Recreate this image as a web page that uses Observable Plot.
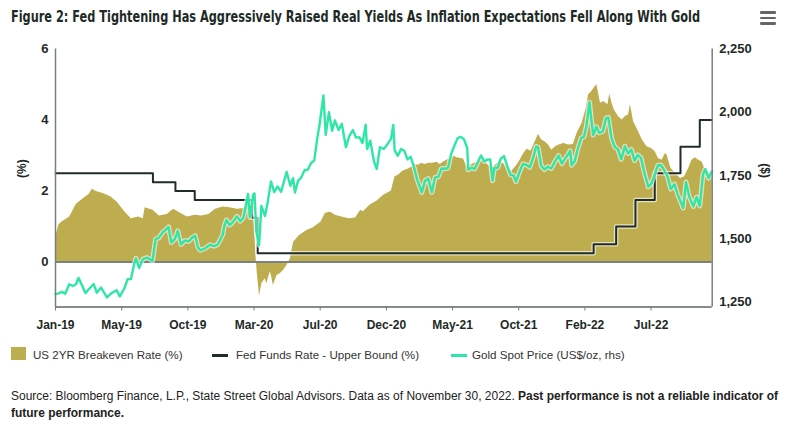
<!DOCTYPE html>
<html><head><meta charset="utf-8">
<script src="https://cdn.jsdelivr.net/npm/d3@7"></script>
<script src="https://cdn.jsdelivr.net/npm/@observablehq/plot@0.6"></script>
<style>
html,body{margin:0;padding:0;background:#fff;}
body{width:792px;height:437px;position:relative;overflow:hidden;font-family:"Liberation Sans",Arial,sans-serif;color:#1e2a26;}
#title{position:absolute;left:11px;top:7px;font-family:"DejaVu Sans Condensed","Liberation Sans",sans-serif;font-stretch:condensed;font-weight:bold;font-size:15px;line-height:20px;white-space:nowrap;color:#1e2a26;transform-origin:0 0;}
#menu{position:absolute;left:760px;top:11px;width:16px;}
#menu div{height:2.6px;background:#666;border-radius:1.3px;margin-bottom:3px;}
#chart{position:absolute;left:0;top:0;}
.leg{position:absolute;top:346px;font-size:11.6px;line-height:18px;color:#333;white-space:nowrap;}
.cap{position:absolute;left:11px;font-size:12px;line-height:17px;color:#222;white-space:nowrap;transform-origin:0 0;}
</style>
</head><body>
<div id="title">Figure 2: Fed Tightening Has Aggressively Raised Real Yields As Inflation Expectations Fell Along With Gold</div>
<div id="menu"><div></div><div></div><div></div></div>
<div id="chart"></div>
<div id="legend"></div>
<div class="cap" id="cap1" style="top:388px">Source: Bloomberg Finance, L.P., State Street Global Advisors. Data as of November 30, 2022. <b>Past performance is not a reliable indicator of</b></div>
<div class="cap" id="cap2" style="top:405px"><b>future performance.</b></div>
<script>
// ---- Data ----
const breakevenDates = ["2019-01-01","2019-01-08","2019-01-15","2019-02-01","2019-02-15","2019-03-01","2019-03-15","2019-03-22","2019-04-01","2019-04-15","2019-05-01","2019-05-15","2019-06-01","2019-06-15","2019-07-01","2019-07-11","2019-07-15","2019-08-01","2019-08-15","2019-09-01","2019-09-15","2019-10-01","2019-10-15","2019-11-01","2019-11-15","2019-12-01","2019-12-15",
"2020-01-01","2020-01-15","2020-02-01","2020-02-15","2020-02-23","2020-03-01","2020-03-05","2020-03-09","2020-03-12","2020-03-15","2020-03-20","2020-03-25","2020-04-01","2020-04-05","2020-04-12","2020-04-15","2020-04-19","2020-04-27","2020-05-04","2020-05-11","2020-05-19","2020-05-26","2020-06-02","2020-06-15","2020-07-01","2020-07-15","2020-08-01","2020-08-10","2020-08-21","2020-09-01","2020-09-15","2020-10-01","2020-10-15","2020-10-26","2020-11-01","2020-11-15","2020-12-01","2020-12-15",
"2021-01-01","2021-01-04","2021-01-09","2021-01-17","2021-01-24","2021-02-01","2021-02-07","2021-02-15","2021-02-22","2021-03-01","2021-03-08","2021-03-15","2021-03-23","2021-04-01","2021-04-10","2021-04-17","2021-04-25","2021-05-01","2021-05-10","2021-05-17","2021-05-24","2021-06-01","2021-06-07","2021-06-14","2021-06-22","2021-07-01","2021-07-10","2021-07-17","2021-07-24","2021-08-01","2021-08-08","2021-08-15","2021-08-22","2021-09-01","2021-09-09","2021-09-20","2021-10-01","2021-10-08","2021-10-16","2021-10-23","2021-11-01","2021-11-10","2021-11-17","2021-11-24","2021-12-01","2021-12-09","2021-12-16","2021-12-24",
"2022-01-01","2022-01-11","2022-01-22","2022-02-01","2022-02-09","2022-02-20","2022-03-01","2022-03-06","2022-03-13","2022-03-18","2022-03-24","2022-04-01","2022-04-08","2022-04-17","2022-04-21","2022-04-26","2022-05-01","2022-05-10","2022-05-18","2022-05-25","2022-06-01","2022-06-05","2022-06-12","2022-06-21","2022-07-01","2022-07-11","2022-07-21","2022-07-29","2022-08-05","2022-08-13","2022-08-20","2022-08-24","2022-09-01","2022-09-11","2022-09-22","2022-10-01","2022-10-10","2022-10-17","2022-10-24","2022-11-01","2022-11-08","2022-11-15","2022-11-22","2022-11-30"];
const breakevenValues = [0.68,1.04,1.13,1.27,1.62,1.77,1.90,2.05,1.98,1.93,1.84,1.69,1.41,1.22,1.27,1.22,1.53,1.46,1.30,1.34,1.49,1.37,1.27,1.32,1.30,1.34,1.49,
1.55,1.53,1.49,1.51,1.70,1.75,1.60,1.00,0.20,-0.30,-0.96,-0.61,-0.47,-0.61,-0.28,-0.38,-0.66,-0.38,-0.33,-0.24,-0.09,0.09,0.56,0.75,0.89,0.97,1.13,1.37,1.41,1.32,1.27,1.22,1.24,1.46,1.42,1.60,1.72,1.88,
2.00,2.17,2.40,2.45,2.54,2.59,2.62,2.68,2.75,2.73,2.78,2.75,2.78,2.78,2.81,2.75,2.82,2.87,2.92,2.98,2.94,2.92,2.90,2.68,2.73,2.78,2.82,2.87,2.81,2.71,2.64,2.73,2.81,2.78,2.66,2.56,2.73,2.87,3.06,3.18,3.13,3.39,3.60,3.44,3.39,3.30,3.15,3.25,
3.30,3.34,3.30,3.31,3.63,3.91,4.33,4.71,4.80,4.90,4.99,4.47,4.52,4.43,4.73,4.47,4.28,4.10,4.00,4.10,4.14,4.44,3.95,3.72,3.44,3.25,3.20,3.11,2.92,2.87,3.06,3.01,2.64,2.50,2.35,2.40,2.64,2.87,2.94,2.87,2.82,2.59,2.50,2.55];

const fedDates = ["2019-01-01","2019-08-01","2019-09-19","2019-10-31","2020-03-04","2020-03-16","2022-03-17","2022-05-05","2022-06-16","2022-07-28","2022-09-22","2022-11-03","2022-11-30"];
const fedValues = [2.50,2.25,2.00,1.75,1.25,0.25,0.50,1.00,1.75,2.50,3.25,4.00,4.00];

const goldDates = ["2019-01-01","2019-01-08","2019-01-15","2019-01-22","2019-01-31","2019-02-08","2019-02-15","2019-02-20","2019-02-28","2019-03-07","2019-03-15","2019-03-25","2019-04-01","2019-04-10","2019-04-23","2019-05-01","2019-05-14","2019-05-21","2019-05-31","2019-06-07","2019-06-14","2019-06-21","2019-06-25","2019-07-02","2019-07-10","2019-07-19","2019-07-31","2019-08-07","2019-08-13","2019-08-23","2019-09-04","2019-09-10","2019-09-18","2019-09-24","2019-10-01","2019-10-10","2019-10-18","2019-10-25","2019-11-01","2019-11-07","2019-11-12","2019-11-22","2019-12-03","2019-12-12","2019-12-20","2019-12-31",
"2020-01-03","2020-01-08","2020-01-15","2020-01-24","2020-01-31","2020-02-07","2020-02-14","2020-02-24","2020-02-28","2020-03-06","2020-03-09","2020-03-13","2020-03-19","2020-03-24","2020-04-01","2020-04-07","2020-04-14","2020-04-21","2020-04-28","2020-05-06","2020-05-18","2020-05-26","2020-06-01","2020-06-05","2020-06-12","2020-06-19","2020-06-26","2020-07-03","2020-07-10","2020-07-17","2020-07-24","2020-07-28","2020-08-06","2020-08-11","2020-08-18","2020-08-25","2020-08-31","2020-09-08","2020-09-15","2020-09-24","2020-10-01","2020-10-09","2020-10-16","2020-10-23","2020-10-30","2020-11-06","2020-11-09","2020-11-16","2020-11-24","2020-11-30","2020-12-07","2020-12-15","2020-12-22","2020-12-31",
"2021-01-05","2021-01-08","2021-01-15","2021-01-22","2021-01-29","2021-02-05","2021-02-12","2021-02-19","2021-02-26","2021-03-05","2021-03-08","2021-03-15","2021-03-22","2021-03-30","2021-04-06","2021-04-13","2021-04-20","2021-04-27","2021-05-04","2021-05-11","2021-05-18","2021-05-25","2021-06-01","2021-06-08","2021-06-15","2021-06-17","2021-06-25","2021-07-01","2021-07-08","2021-07-15","2021-07-22","2021-07-30","2021-08-04","2021-08-09","2021-08-13","2021-08-20","2021-08-27","2021-09-03","2021-09-10","2021-09-17","2021-09-24","2021-09-29","2021-10-06","2021-10-14","2021-10-22","2021-10-29","2021-11-05","2021-11-12","2021-11-16","2021-11-23","2021-11-30","2021-12-07","2021-12-15","2021-12-22","2021-12-31",
"2022-01-07","2022-01-14","2022-01-21","2022-01-25","2022-01-28","2022-02-04","2022-02-11","2022-02-18","2022-02-24","2022-03-01","2022-03-08","2022-03-11","2022-03-16","2022-03-23","2022-03-29","2022-04-06","2022-04-13","2022-04-18","2022-04-25","2022-05-02","2022-05-09","2022-05-16","2022-05-24","2022-05-31","2022-06-07","2022-06-14","2022-06-21","2022-06-28","2022-07-05","2022-07-14","2022-07-21","2022-07-28","2022-08-04","2022-08-10","2022-08-16","2022-08-24","2022-09-01","2022-09-09","2022-09-16","2022-09-28","2022-10-04","2022-10-11","2022-10-20","2022-10-27","2022-11-03","2022-11-10","2022-11-15","2022-11-22","2022-11-30"];
const goldValues = [1282,1285,1291,1283,1321,1314,1322,1346,1316,1286,1302,1322,1287,1308,1269,1283,1297,1273,1305,1341,1341,1399,1423,1385,1420,1426,1413,1500,1503,1527,1547,1486,1500,1532,1478,1494,1490,1505,1512,1467,1455,1462,1477,1471,1478,1517,
1549,1575,1554,1571,1589,1570,1584,1677,1585,1674,1680,1530,1475,1630,1590,1648,1727,1685,1707,1686,1765,1710,1740,1683,1730,1743,1771,1773,1799,1810,1902,1944,2067,1911,2000,1927,1968,1930,1955,1862,1905,1930,1900,1902,1879,1951,1855,1888,1806,1776,1862,1855,1870,1895,
1950,1850,1828,1855,1848,1814,1824,1784,1734,1700,1683,1730,1738,1684,1743,1745,1778,1777,1780,1836,1868,1898,1903,1893,1858,1773,1781,1776,1803,1829,1806,1814,1813,1730,1780,1781,1817,1827,1787,1754,1750,1726,1761,1796,1792,1783,1818,1865,1862,1788,1774,1785,1778,1803,1829,
1797,1818,1835,1848,1791,1808,1859,1898,1904,1943,2040,1988,1910,1943,1919,1925,1977,1980,1897,1863,1854,1814,1866,1837,1853,1809,1832,1820,1764,1706,1719,1756,1791,1792,1776,1750,1697,1716,1675,1622,1725,1667,1628,1665,1630,1755,1776,1740,1768];

const xTickDates = ["2019-01-01","2019-05-25","2019-10-16","2020-03-08","2020-07-30","2020-12-21","2021-05-14","2021-10-05","2022-02-26","2022-07-20"];
const leftTicks = [0, 2, 4, 6];
const rightTicks = [1250, 1500, 1750, 2000, 2250];
const xDomain = ["2019-01-01", "2022-11-30"];
const leftDomain = [-1.265, 6];
const rightDomain = [1231, 2250];

const legendItems = ["US 2YR Breakeven Rate (%)", "Fed Funds Rate - Upper Bound (%)", "Gold Spot Price (US$/oz, rhs)"];

// ---- Build tables ----
const parse = s => new Date(s + "T00:00:00Z");
const be = breakevenDates.map((d, i) => ({date: parse(d), value: breakevenValues[i]}));
const fed = fedDates.map((d, i) => ({date: parse(d), value: fedValues[i]}));
const gold = goldDates.map((d, i) => ({date: parse(d), value: goldValues[i]}));

// map right-axis ($) values onto the left (%) scale
const toLeft = d3.scaleLinear().domain(rightDomain).range(leftDomain);
const fromLeft = toLeft.invert;

const COL_AREA = "#bead4f", COL_FED = "#1f2c28", COL_GOLD = "#2ee6a6", COL_AXIS = "#76807c", COL_TXT = "#1e2a26";
const font = "Liberation Sans, Arial, sans-serif";

const chart = Plot.plot({
  width: 792, height: 340,
  marginTop: 48.5, marginBottom: 33.5, marginLeft: 55, marginRight: 80.3,
  x: {type: "utc", domain: xDomain.map(parse), axis: null, label: null},
  y: {domain: leftDomain, axis: null, label: null},
  style: {fontFamily: font, background: "transparent", overflow: "visible"},
  marks: [
    Plot.areaY(be, {x: "date", y: "value", fill: COL_AREA}),
    Plot.ruleY([0], {stroke: "#7b817e", strokeWidth: 2}),
    Plot.line(fed, {x: "date", y: "value", curve: "step-after", stroke: "#fff", strokeWidth: 4.5, strokeOpacity: 0.65}),
    Plot.line(fed, {x: "date", y: "value", curve: "step-after", stroke: COL_FED, strokeWidth: 2}),
    Plot.line(gold, {x: "date", y: d => toLeft(d.value), stroke: "#fff", strokeWidth: 5, strokeOpacity: 0.6}),
    Plot.line(gold, {x: "date", y: d => toLeft(d.value), stroke: COL_GOLD, strokeWidth: 2.4}),
    Plot.ruleX([parse(xDomain[0])], {stroke: COL_AXIS, strokeWidth: 1.5}),
    Plot.ruleX([parse(xDomain[1])], {stroke: COL_AXIS, strokeWidth: 1.5}),
    Plot.ruleY([leftDomain[0]], {stroke: "#5d6662", strokeWidth: 1.5}),
    Plot.axisY(leftTicks, {anchor: "left", tickSize: 0, tickPadding: 7, fontSize: 13, fontWeight: "bold", fill: COL_TXT, label: null}),
    Plot.axisY(rightTicks.map(toLeft), {anchor: "right", tickSize: 0, tickPadding: 7, fontSize: 13, fontWeight: "bold", fill: COL_TXT, label: null,
      tickFormat: d => d3.format(",")(Math.round(fromLeft(d)))}),
    Plot.axisX(xTickDates.map(parse), {anchor: "bottom", tickSize: 4, tickPadding: 9, stroke: COL_AXIS, fontSize: 12, fontWeight: "bold", fill: COL_TXT, label: null,
      tickFormat: d3.utcFormat("%b-%y")}),
    Plot.text(["(%)"], {frameAnchor: "left", dx: -33, rotate: -90, fontSize: 12, fontWeight: "bold", fill: COL_TXT}),
    Plot.text(["($)"], {frameAnchor: "right", dx: 53, rotate: 90, fontSize: 12, fontWeight: "bold", fill: COL_TXT})
  ]
});
document.getElementById("chart").appendChild(chart);

// ---- Legend ----
const legend = document.getElementById("legend");
const legX = [11, 212, 451];
const swatches = [
  `<div style="position:absolute;left:0;top:1px;width:15px;height:13px;background:${COL_AREA}"></div>`,
  `<div style="position:absolute;left:0;top:8px;width:16px;height:3px;background:${COL_FED}"></div>`,
  `<div style="position:absolute;left:0;top:8px;width:16px;height:3px;background:${COL_GOLD}"></div>`
];
const textOffsets = [22, 24, 21];
legendItems.forEach((t, i) => {
  const el = document.createElement("div");
  el.className = "leg";
  el.style.left = legX[i] + "px";
  el.innerHTML = swatches[i] + `<span style="position:absolute;left:${textOffsets[i]}px;top:0">${t}</span>`;
  legend.appendChild(el);
});

// ---- fit title and caption widths to the reference ----
function fitWidth(el, target) {
  const w = el.getBoundingClientRect().width;
  const k = target / w;
  el.style.transform = `scaleX(${k})`;
  return k;
}
fitWidth(document.getElementById("title"), 689);
const k = fitWidth(document.getElementById("cap1"), 767);
document.getElementById("cap2").style.transform = `scaleX(${k})`;
</script>
</body></html>
